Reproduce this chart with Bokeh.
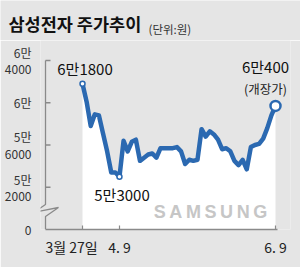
from bokeh.plotting import figure
from bokeh.models import Range1d, FixedTicker, Label
from bokeh.layouts import column
from bokeh.embed import file_html
from bokeh.resources import INLINE

# ---- data -------------------------------------------------------------
title_text = "삼성전자 주가추이"
unit_text = "(단위:원)"
prices = [61800, 60100, 57800, 58900, 58800, 57100, 55400, 53400, 53400, 53000,
          56400, 55400, 56300, 56500, 54500, 54800, 55100, 55200, 54800, 55700,
          55700, 55700, 55700, 55800, 55400, 54200, 54600, 54500, 54600, 57500,
          56800, 57300, 57000, 56500, 55600, 55700, 55400, 54500, 54100, 54600,
          53700, 55800, 56000, 56100, 56600, 57600, 58800, 59700]
x_ticks = [0, 9, 47]
x_tick_labels = ["3월 27일", "4. 9", "6. 9"]
y_ticks = [48000, 52000, 56000, 60000, 64000]
y_tick_labels = ["0", "5만\n2000", "5만\n6000", "6만", "6만\n4000"]
first_label = "6만1800"
low_label = "5만3000"
last_label = "6만400"
last_note = "(개장가)"
watermark = "SAMSUNG"

# ---- geometry (page pixels) -------------------------------------------
W, H = 300, 267
HEAD = 40                          # header strip height
CH = H - HEAD                      # chart figure height
FL, FR, FB = 40, 290, 229          # chart frame edges (page px)
P0, PN = 82, 275                   # px of first / last trading day
n = len(prices)
step = (PN - P0) / (n - 1)
BASE, TOP_V, TOP_PX = 48000, 64000, 60
ppu = (FB - TOP_PX) / (TOP_V - BASE)

def X(px):
    return (px - P0) / step

def Y(py):
    return BASE + (FB - py) / ppu

idx = list(range(n))
BG = "#e5e5e5"
BLUE = "#2b69b1"
AX = "#8a8a8a"
KR = "Noto Sans CJK KR"

# ---- header strip with the title ----------------------------------------
head = figure(width=W, height=HEAD, output_backend="svg", toolbar_location=None,
              title=None, x_range=Range1d(0, W), y_range=Range1d(HEAD, 0),
              x_axis_type=None, y_axis_type=None,
              min_border=0)
head.frame_align = False
head.background_fill_color = BG
head.border_fill_color = BG
head.outline_line_color = None
head.grid.visible = False
head.add_layout(Label(x=8, y=22.5, text=title_text, text_font=KR,
                      text_font_size="17.5px", text_font_style="bold",
                      text_color="#111111", text_align="left", text_baseline="middle"))
head.add_layout(Label(x=148, y=28, text=unit_text, text_font=KR,
                      text_font_size="11.5px", text_color="#333333",
                      text_align="left", text_baseline="middle"))

# ---- chart ---------------------------------------------------------------
p = figure(width=W, height=CH, output_backend="svg", toolbar_location=None,
           title=None,
           x_range=Range1d(X(FL), X(FR)), y_range=Range1d(BASE, Y(HEAD)),
           min_border_left=FL, min_border_right=W - FR,
           min_border_top=0, min_border_bottom=H - FB)
p.frame_align = False
p.background_fill_color = BG
p.border_fill_color = BG
p.outline_line_color = None
p.grid.visible = False

ya = p.yaxis[0]
ya.ticker = FixedTicker(ticks=y_ticks)
ya.major_label_overrides = dict(zip(y_ticks, y_tick_labels))
ya.axis_line_color = None
ya.major_tick_line_color = None
ya.minor_tick_line_color = None
ya.major_label_standoff = 3
ya.major_label_text_font = KR
ya.major_label_text_font_size = "12px"
ya.major_label_text_color = "#333333"
ya.major_label_text_line_height = 0.95

xa = p.xaxis[0]
xa.ticker = FixedTicker(ticks=x_ticks)
pad = "\u00a0" * 7
xa.major_label_overrides = {x_ticks[0]: x_tick_labels[0] + pad,
                            x_ticks[1]: x_tick_labels[1],
                            x_ticks[2]: x_tick_labels[2]}
xa.bounds = (X(45), X(277))
xa.axis_line_color = AX
xa.axis_line_width = 1.3
xa.major_tick_in = 4
xa.major_tick_out = 0
xa.major_tick_line_color = AX
xa.major_tick_line_width = 1.2
xa.minor_tick_line_color = None
xa.major_label_standoff = 7
xa.major_label_text_font = KR
xa.major_label_text_font_size = "14px"
xa.major_label_text_color = "#222222"

# white area under the price line
p.varea(x=idx, y1=BASE, y2=prices, fill_color="white")

# hand-drawn y axis with a break
brk_x = [X(45), X(45), X(33), X(58), X(45), X(45)]
brk_y = [TOP_V, Y(204), Y(212), Y(207), Y(216), BASE]
p.line(brk_x, brk_y, line_color=AX, line_width=1.3)
p.segment(x0=[X(45)] * (len(y_ticks) - 1), x1=[X(50)] * (len(y_ticks) - 1),
          y0=y_ticks[1:], y1=y_ticks[1:], line_color=AX, line_width=1.3)

# price line
p.line(idx, prices, line_color=BLUE, line_width=4.5, line_join="round", line_cap="round")
lo = prices.index(min(prices))
p.scatter([0, lo], [prices[0], prices[lo]], size=5, fill_color="white",
          line_color=BLUE, line_width=1.5)
p.scatter([n - 1], [prices[-1]], size=10, fill_color="white",
          line_color=BLUE, line_width=2.5)

def lab(px, py, text, size, bold=False, color="#111111", align="center", font=KR):
    p.add_layout(Label(x=X(px), y=Y(py), text=text, text_font=font,
                       text_font_size=size, text_font_style="bold" if bold else "normal",
                       text_color=color, text_align=align, text_baseline="middle"))

lab(84.5, 67.5, first_label, "15px")
lab(121.5, 194, low_label, "15px")
lab(265, 66, last_label, "15px")
lab(265, 87.5, last_note, "12.5px", color="#222222")
lab(210, 211.5, "\u2009".join(watermark), "18px", bold=True, color="#c6c6c6",
    font="Liberation Sans")

page = column(head, p, spacing=0)
open("out.html", "w").write(file_html(page, INLINE))
